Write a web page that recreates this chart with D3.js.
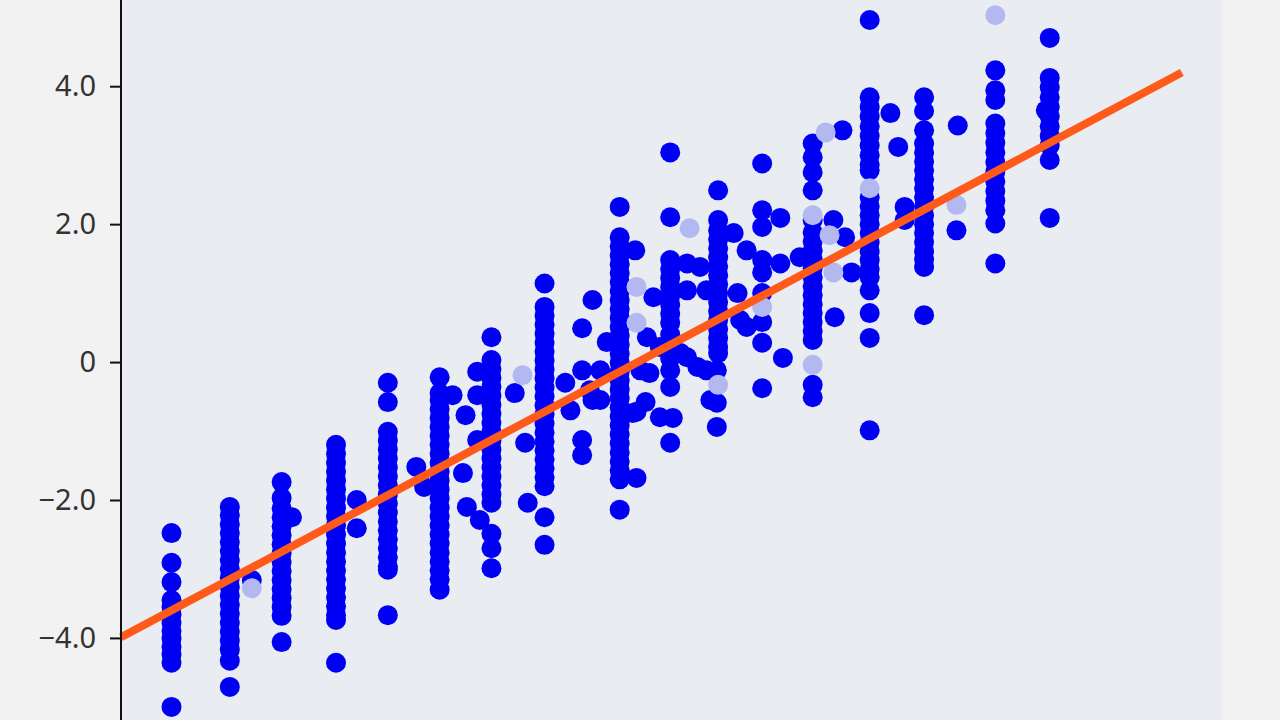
<!DOCTYPE html>
<html lang="en">
<head>
    <meta charset="UTF-8">
    <title>scatter with fitted line</title>
    <script src="https://cdn.jsdelivr.net/npm/d3@7"></script>
    <style>
        html, body {
            margin: 0;
            padding: 0;
            background: #f2f2f2;
        }

        svg {
            display: block;
        }

        .y-axis text {
            font-family: "Noto Sans", sans-serif;
            font-size: 29px;
            fill: #333;
        }

        .y-axis path,
        .y-axis line {
            stroke: #111;
            stroke-width: 2px;
        }
    </style>
</head>
<body>
<script>
    //画布大小
    const width = 1280;
    const height = 720;

    //每一列的 x 值
    const colX = [-3.61, -3.16, -2.76, -2.34, -1.94, -1.54, -1.14, -0.73, -0.15,
        0.24, 0.61, 1.34, 1.78, 2.20, 2.75, 3.17];

    //每一列的 y 值
    const colY = [
        [-2.48, -2.91, -3.19, -3.45, -3.55, -3.66, -3.78, -3.90, -4.01, -4.13, -4.24, -4.36, -5.00],
        [-2.10, -2.22, -2.35, -2.48, -2.61, -2.74, -2.87, -3.00, -3.13, -3.26, -3.39, -3.52, -3.65,
            -3.78, -3.91, -4.04, -4.17, -4.33, -4.71],
        [-1.74, -1.97, -2.12, -2.25, -2.38, -2.51, -2.64, -2.77, -2.90, -3.03, -3.16, -3.29, -3.42,
            -3.55, -3.68, -4.06],
        [-1.20, -1.33, -1.46, -1.59, -1.72, -1.85, -1.98, -2.11, -2.24, -2.37, -2.50, -2.63, -2.76,
            -2.89, -3.02, -3.15, -3.28, -3.41, -3.54, -3.67, -3.74, -4.36],
        [-0.30, -0.58, -1.01, -1.14, -1.27, -1.40, -1.53, -1.66, -1.79, -1.92, -2.05, -2.18, -2.31,
            -2.44, -2.57, -2.70, -2.83, -2.96, -3.01, -3.67],
        [-0.22, -0.45, -0.55, -0.68, -0.81, -0.94, -1.07, -1.20, -1.33, -1.46, -1.59, -1.72, -1.85,
            -1.98, -2.11, -2.24, -2.37, -2.50, -2.63, -2.76, -2.89, -3.02, -3.15, -3.30],
        [0.36, 0.03, -0.10, -0.23, -0.36, -0.49, -0.62, -0.75, -0.88, -1.01, -1.14, -1.27, -1.40,
            -1.53, -1.66, -1.79, -1.92, -2.04, -2.49, -2.70, -2.99],
        [1.14, 0.80, 0.67, 0.54, 0.41, 0.28, 0.15, 0.02, -0.11, -0.24, -0.37, -0.50, -0.63, -0.76,
            -0.89, -1.02, -1.15, -1.28, -1.41, -1.54, -1.67, -1.80, -2.25, -2.65],
        [2.25, 1.81, 1.68, 1.55, 1.42, 1.29, 1.16, 1.03, 0.90, 0.77, 0.64, 0.51, 0.38, 0.25, 0.12,
            -0.01, -0.14, -0.27, -0.40, -0.53, -0.66, -0.79, -0.92, -1.05, -1.18, -1.31, -1.44,
            -1.57, -1.70, -2.14],
        [3.04, 2.10, 1.48, 1.35, 1.22, 1.09, 0.96, 0.83, 0.70, 0.57, 0.40, 0.20, 0.05, -0.12, -0.36],
        [2.49, 2.06, 1.91, 1.78, 1.65, 1.52, 1.39, 1.26, 1.13, 1.00, 0.87, 0.74, 0.61, 0.48, 0.35,
            0.22, 0.13],
        [3.17, 2.97, 2.75, 2.49, 2.06, 1.88, 1.75, 1.62, 1.49, 1.36, 1.23, 1.10, 0.97, 0.84, 0.71,
            0.58, 0.45, 0.32, -0.33, -0.51],
        [4.96, 3.84, 3.70, 3.56, 3.42, 3.28, 3.14, 3.00, 2.86, 2.78, 2.39, 2.26, 2.13, 2.00, 1.87,
            1.74, 1.61, 1.48, 1.35, 1.23, 1.04, 0.71, 0.35, -0.99],
        [3.84, 3.64, 3.36, 3.17, 3.04, 2.91, 2.78, 2.65, 2.52, 2.39, 2.26, 2.13, 2.00, 1.87, 1.74,
            1.61, 1.49, 1.38, 0.68],
        [4.23, 3.94, 3.80, 3.46, 3.32, 3.18, 3.04, 2.90, 2.76, 2.62, 2.48, 2.34, 2.20, 2.01, 1.43],
        [4.70, 4.12, 3.98, 3.84, 3.70, 3.56, 3.42, 3.28, 3.14, 2.93, 2.09]
    ];

    //零散的点
    const extraX = [-2.68, -2.99, -2.18, -2.18, -1.72, -1.66, -1.44, -1.34, -1.36, -1.33, -1.25, -1.25,
        -1.25, -1.23, -0.96, -0.88, -0.86, -0.44, -0.36, -0.25, -0.44, -0.30, -0.57, -0.53, -0.36,
        -0.30, -0.44, -0.44, -0.38, -0.03, -0.02, 0.11, 0.06, 0.16, 0.32, 0.01, 0.08, 0.05, -0.02,
        0.16, 0.26, 0.24, -0.05, 0.37, 0.47, 0.37, 0.52, 0.45, 0.55, 0.60, 0.60, 0.52, 0.60, 0.37,
        0.73, 0.76, 0.83, 0.83, 0.78, 0.95, 0.95, 0.95, 1.09, 0.95, 0.95, 0.95, 1.09, 0.95, 0.95,
        0.95, 1.11, 1.24, 1.50, 1.59, 1.64, 1.51, 1.57, 1.94, 2.00, 2.05, 2.05, 2.46, 2.45, 3.14];
    const extraY = [-2.25, -3.16, -2.00, -2.41, -1.52, -1.81, -0.48, -0.77, -1.61, -2.10, -0.14, -0.48,
        -1.13, -2.29, -0.45, -1.17, -2.04, 0.49, 0.90, 0.29, -0.12, -0.12, -0.30, -0.70, -0.55,
        -0.55, -1.13, -1.35, -0.41, 1.62, -1.68, 0.94, 0.36, 0.22, 0.13, -0.12, -0.16, -0.58, -0.72,
        -0.80, -0.81, -1.17, -0.74, 1.43, 1.38, 1.04, 1.04, -0.07, -0.55, -0.59, -0.94, -0.12, -0.12,
        0.07, 1.87, 1.00, 1.62, 0.51, 0.61, 2.88, 2.20, 1.96, 2.09, 1.48, 1.30, 1.00, 1.43, 0.58,
        0.28, -0.38, 0.06, 1.52, 2.06, 1.81, 1.30, 0.65, 3.36, 3.61, 3.12, 2.25, 2.06, 3.43, 1.91,
        3.65];

    //颜色较淡的点
    const fadedX = [-2.99, -0.90, -0.02, -0.02, 0.39, 0.61, 0.95, 1.34, 1.34, 1.47, 1.50, 1.44, 1.78,
        2.45, 2.75];
    const fadedY = [-3.28, -0.19, 1.09, 0.57, 1.94, -0.33, 0.80, 2.13, -0.04, 1.84, 1.30, 3.33, 2.52,
        2.28, 5.03];

    //拟合直线两端
    const fitX = [-4.0, 4.19];
    const fitY = [-3.99, 4.20];

    //y 轴刻度
    const yTicks = [-4, -2, 0, 2, 4];

    //比例尺
    const x = d3.scaleLinear().domain([-4, 4.5]).range([121, 1222]);
    const y = d3.scaleLinear().domain([-5.19, 5.25]).range([height, 0]);

    //整理数据
    const points = [];
    colX.forEach((cx, i) => colY[i].forEach(cy => points.push({x: cx, y: cy})));
    extraX.forEach((ex, i) => points.push({x: ex, y: extraY[i]}));
    const faded = fadedX.map((fx, i) => ({x: fx, y: fadedY[i]}));
    const fit = fitX.map((fx, i) => ({x: fx, y: fitY[i]}));

    const svg = d3.select("body").append("svg")
        .attr("width", width)
        .attr("height", height);

    //绘图区背景
    svg.append("rect")
        .attr("x", x.range()[0])
        .attr("y", 0)
        .attr("width", x.range()[1] - x.range()[0])
        .attr("height", height)
        .attr("fill", "#e9edf1");

    const plot = svg.append("g");

    //蓝色散点
    plot.append("g").attr("class", "dots")
        .selectAll("circle")
        .data(points)
        .enter()
        .append("circle")
        .attr("cx", d => x(d.x))
        .attr("cy", d => y(d.y))
        .attr("r", 10)
        .attr("fill", "#0000f5");

    //淡色散点
    plot.append("g").attr("class", "faded")
        .selectAll("circle")
        .data(faded)
        .enter()
        .append("circle")
        .attr("cx", d => x(d.x))
        .attr("cy", d => y(d.y))
        .attr("r", 10)
        .attr("fill", "#b4b8f0");

    //拟合线
    const line = d3.line().x(d => x(d.x)).y(d => y(d.y));
    plot.append("path")
        .datum(fit)
        .attr("d", line)
        .attr("fill", "none")
        .attr("stroke", "#ff5a1a")
        .attr("stroke-width", 8);

    //y 轴
    const yAxis = d3.axisLeft(y)
        .tickValues(yTicks)
        .tickSize(11)
        .tickPadding(14)
        .tickFormat(d => d === 0 ? "0" : d3.format(".1f")(d));

    svg.append("g")
        .attr("class", "y-axis")
        .attr("transform", `translate(${x.range()[0]},0)`)
        .call(yAxis)
        .call(g => g.select(".domain").attr("d", `M0,0V${height}`));
</script>
</body>
</html>
